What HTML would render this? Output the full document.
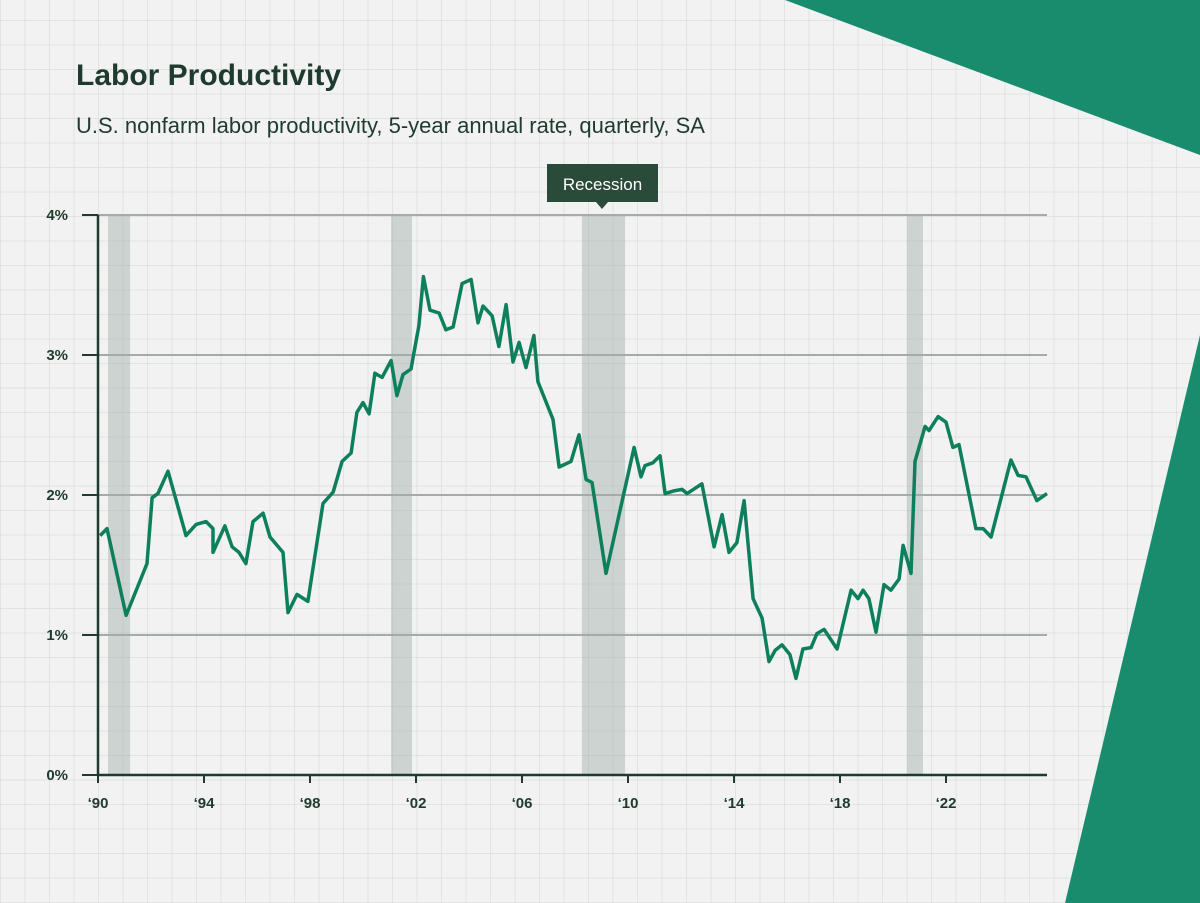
<!DOCTYPE html>
<html><head><meta charset="utf-8"><style>
body{margin:0;width:1200px;height:903px;overflow:hidden;font-family:"Liberation Sans",sans-serif;}
#bg{position:absolute;left:0;top:0;width:1200px;height:903px;background-color:#f1f2f1;
background-image:repeating-linear-gradient(0deg,rgba(180,188,186,0.25) 0 1px,transparent 1px 24.5px),repeating-linear-gradient(90deg,rgba(180,188,186,0.25) 0 1px,transparent 1px 24.5px);}
</style></head><body>
<div id="bg"></div>
<svg width="1200" height="903" style="position:absolute;left:0;top:0" id="chart">
<polygon points="785,0 1200,0 1200,155" fill="#1a8c6e"/>
<polygon points="1200,335 1200,903 1065,903" fill="#1a8c6e"/>
<text x="76" y="85" font-size="30" font-weight="bold" fill="#1f3b2f">Labor Productivity</text>
<text x="76" y="133" font-size="22" fill="#1f3b2f">U.S. nonfarm labor productivity, 5-year annual rate, quarterly, SA</text>
<g id="rec"></g><g id="grid"></g><g id="axes"></g>
<path id="line" fill="none" stroke="#0e7f5c" stroke-width="3.5" stroke-linejoin="round"/>
<g>
<rect x="547" y="164" width="111" height="38" fill="#2a4a3a"/>
<polygon points="596,202 608,202 602,209" fill="#2a4a3a"/>
<text x="602.5" y="190" font-size="17" fill="#fff" text-anchor="middle">Recession</text>
</g>
</svg>
<script>
const years=[1990.08,1990.34,1991.06,1991.85,1992.04,1992.26,1992.64,1993.32,1993.70,1994.08,1994.34,1994.34,1994.79,1995.06,1995.32,1995.58,1995.85,1996.23,1996.49,1996.98,1997.17,1997.51,1997.92,1998.49,1998.87,1999.21,1999.55,1999.77,2000.0,2000.23,2000.45,2000.72,2001.06,2001.28,2001.51,2001.81,2002.11,2002.28,2002.53,2002.87,2003.13,2003.40,2003.74,2004.08,2004.34,2004.53,2004.87,2005.13,2005.40,2005.66,2005.89,2006.15,2006.45,2006.60,2007.17,2007.40,2007.85,2008.15,2008.42,2008.64,2009.17,2010.23,2010.49,2010.64,2010.94,2011.21,2011.40,2011.74,2012.04,2012.23,2012.79,2013.25,2013.55,2013.81,2014.11,2014.38,2014.72,2015.06,2015.32,2015.55,2015.81,2016.11,2016.34,2016.60,2016.91,2017.13,2017.40,2017.89,2018.42,2018.68,2018.87,2019.09,2019.36,2019.66,2019.92,2020.23,2020.38,2020.68,2020.83,2021.21,2021.36,2021.70,2022.00,2022.26,2022.49,2023.13,2023.40,2023.70,2024.45,2024.72,2025.02,2025.43,2025.81];
const values=[1.71,1.76,1.14,1.51,1.98,2.01,2.17,1.71,1.79,1.81,1.76,1.59,1.78,1.63,1.59,1.51,1.81,1.87,1.70,1.59,1.16,1.29,1.24,1.94,2.02,2.24,2.30,2.59,2.66,2.58,2.87,2.84,2.96,2.71,2.86,2.90,3.21,3.56,3.32,3.30,3.18,3.20,3.51,3.54,3.23,3.35,3.28,3.06,3.36,2.95,3.09,2.91,3.14,2.81,2.54,2.20,2.24,2.43,2.11,2.09,1.44,2.34,2.13,2.21,2.23,2.28,2.01,2.03,2.04,2.01,2.08,1.63,1.86,1.59,1.66,1.96,1.26,1.12,0.81,0.89,0.93,0.86,0.69,0.90,0.91,1.01,1.04,0.90,1.32,1.26,1.32,1.26,1.02,1.36,1.32,1.40,1.64,1.44,2.24,2.49,2.46,2.56,2.52,2.34,2.36,1.76,1.76,1.70,2.25,2.14,2.13,1.96,2.01];
const recStart=[1990.38,2001.06,2008.26,2020.53];
const recEnd=[1991.21,2001.85,2009.89,2021.13];
const yTicks=[0,1,2,3,4];
const yTickLabels=["0%","1%","2%","3%","4%"];
const xTicks=[1990,1994,1998,2002,2006,2010,2014,2018,2022];
const xTickLabels=["‘90","‘94","‘98","‘02","‘06","‘10","‘14","‘18","‘22"];
const X=y=>98+(y-1990)*26.5, Y=v=>775-v*140;
const NS="http://www.w3.org/2000/svg";
function mk(t,a,p){const e=document.createElementNS(NS,t);for(const k in a)e.setAttribute(k,a[k]);p.appendChild(e);return e;}
const rec=document.getElementById('rec'),grid=document.getElementById('grid'),axes=document.getElementById('axes');
recStart.forEach((s,i)=>{const r=mk('rect',{x:X(s),y:215,width:X(recEnd[i])-X(s),height:560,fill:'rgba(150,165,160,0.4)'},rec);

});
yTicks.forEach((v,i)=>{if(v>0){const l=mk('line',{x1:98,x2:1047,y1:Y(v),y2:Y(v),stroke:'#a3aca8','stroke-width':2},grid);

}
const tk=mk('line',{x1:82,x2:98,y1:Y(v),y2:Y(v),stroke:'#1f3b2f','stroke-width':2},axes);


const t=mk('text',{x:68,y:Y(v)+5,'font-size':15,'font-weight':'bold',fill:'#1f3b2f','text-anchor':'end'},axes);t.textContent=yTickLabels[i];

});
xTicks.forEach((yr,i)=>{const tk=mk('line',{x1:X(yr),x2:X(yr),y1:775,y2:783,stroke:'#1f3b2f','stroke-width':2},axes);


const t=mk('text',{x:X(yr),y:808,'font-size':15,'font-weight':'bold',fill:'#1f3b2f','text-anchor':'middle'},axes);t.textContent=xTickLabels[i];

});
const ya=mk('line',{x1:98,x2:98,y1:215,y2:776,stroke:'#1f3b2f','stroke-width':2.5},axes);


const xa=mk('line',{x1:97,x2:1047,y1:775,y2:775,stroke:'#1f3b2f','stroke-width':2.5},axes);


document.getElementById('line').setAttribute('d',years.map((y,i)=>(i?'L':'M')+X(y).toFixed(1)+','+Y(values[i]).toFixed(1)).join(''));
</script>
</body></html>
